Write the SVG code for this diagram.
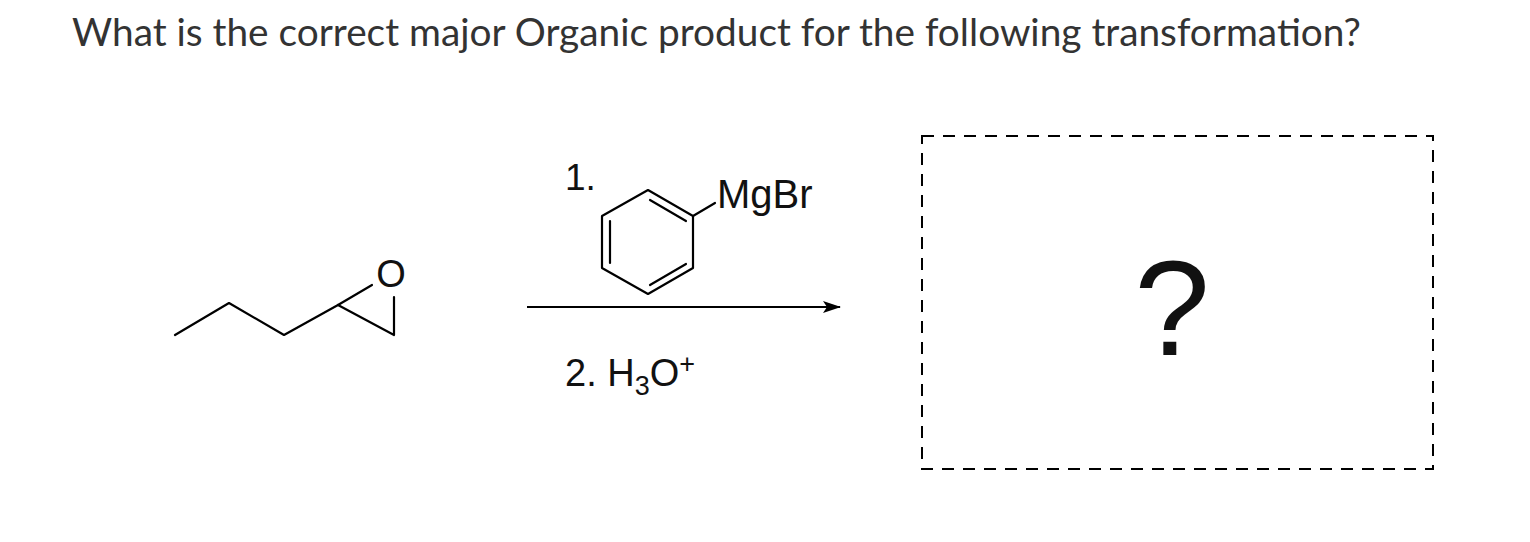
<svg xmlns="http://www.w3.org/2000/svg" width="1530" height="542" viewBox="0 0 1530 542">
<style>
.b{stroke:#000;stroke-width:2.2;fill:none;stroke-linecap:round;stroke-linejoin:round}
.t{font-family:"Liberation Sans",Arial,sans-serif;fill:#111}
</style>
<defs><marker id="ah" markerWidth="18" markerHeight="12" refX="17" refY="6" orient="auto" markerUnits="userSpaceOnUse"><path d="M0,0 L18,6 L0,12 L4,6 Z" fill="#000"/></marker></defs>
<rect width="1530" height="542" fill="#fff"/>
<text x="72" y="46" style="font-family:Lato,sans-serif;font-size:38.8px;fill:#333">What is the correct major Organic product for the following transformation?</text>
<g id="epoxide">
<polyline class="b" points="175,335 229,303 284,335 338,305 372,285"/>
<polyline class="b" points="338,305 394,335 394,297"/>
<text class="t" x="391" y="287" font-size="38" text-anchor="middle">O</text>
</g>
<g id="reagent">
<polygon class="b" points="648,190 693,216 693,268 648,294 602,268 602,216"/>
<line class="b" x1="610" y1="221" x2="610" y2="263"/>
<line class="b" x1="650" y1="200" x2="686" y2="221"/>
<line class="b" x1="650" y1="285" x2="686" y2="264"/>
<line class="b" x1="693" y1="216" x2="715" y2="203"/>
<text class="t" x="717" y="208" font-size="40">MgBr</text>
<text class="t" x="565" y="190" font-size="37">1.</text>
<text class="t" x="565" y="386" font-size="38">2. H<tspan font-size="27" dy="9">3</tspan><tspan dy="-9">O</tspan><tspan font-size="27" dy="-13">+</tspan></text>
</g>
<g id="connectors">
<line x1="527" y1="307" x2="840" y2="307" stroke="#000" stroke-width="2.2" marker-end="url(#ah)"/>
</g>
<g id="answer">
<rect x="922" y="136" width="511" height="333" fill="none" stroke="#000" stroke-width="2" stroke-dasharray="12,9"/>
<text class="t" x="1172" y="355" font-size="136" text-anchor="middle">?</text>
</g>
</svg>
